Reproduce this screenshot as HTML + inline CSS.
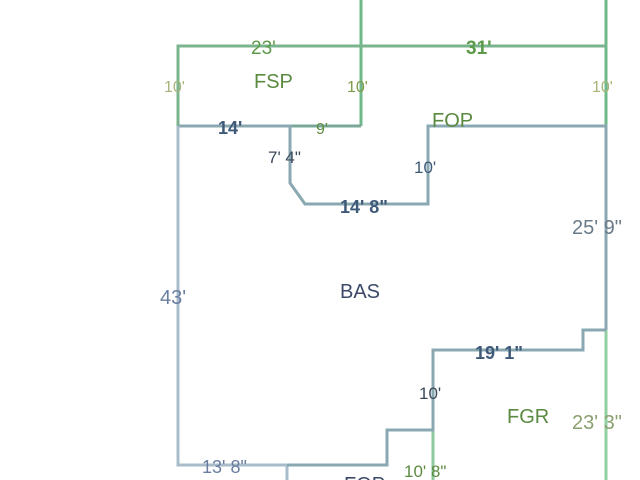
<!DOCTYPE html>
<html><head><meta charset="utf-8"><style>
html,body{margin:0;padding:0;background:#fff;}
svg{display:block}
text{font-family:"Liberation Sans",sans-serif;}
</style></head><body>
<svg width="640" height="480" viewBox="0 0 640 480" xmlns="http://www.w3.org/2000/svg">
<g fill="none" stroke-width="3" stroke-linejoin="miter">
<path d="M361 0 V126" stroke="#6fb889"/>
<path d="M606 0 V126" stroke="#6fb889"/>
<path d="M178 126 V46 H606" stroke="#79b48e"/>
<path d="M290 126 H361" stroke="#7aa898"/>
<path d="M606 330 V480" stroke="#8fd09e"/>
<path d="M433 400 V480" stroke="#8fc9a0"/>
<path d="M178 126 H290 V183 L305 204 H428 V126 H606 V330" stroke="#8aa8b2"/>
<path d="M178 126 V465 H287 V480" stroke="#a9bccb"/>
<path d="M606 330 H583 V350 H433 V430 H387 V465 H287" stroke="#8aa8b2"/>
</g>
<g font-size="17">
<text x="251" y="54" fill="#5d9a4a" font-size="19">23'</text>
<text x="466" y="54" fill="#5d9a4a" font-size="19" font-weight="bold">31'</text>
<text x="164" y="92" fill="#a7b57a" font-size="16">10'</text>
<text x="347" y="92" fill="#7e9a4a" font-size="16">10'</text>
<text x="592" y="92" fill="#a7b57a" font-size="16">10'</text>
<text x="254" y="88" fill="#5a8a40" font-size="20">FSP</text>
<text x="432" y="127" fill="#5a8a40" font-size="20">FOP</text>
<text x="218" y="134" fill="#3e5a78" font-weight="bold" font-size="18">14'</text>
<text x="316" y="134" fill="#5a8a40" font-size="16">9'</text>
<text x="268" y="163" fill="#3b4a5c" font-size="17">7' 4"</text>
<text x="414" y="173" fill="#3e5a78" font-size="17">10'</text>
<text x="340" y="213" fill="#3e5a78" font-weight="bold" font-size="18">14' 8"</text>
<text x="572" y="234" fill="#6a7a88" font-size="20">25' 9"</text>
<text x="160" y="304" fill="#6a7ea0" font-size="20">43'</text>
<text x="340" y="298" fill="#3b4a68" font-size="20">BAS</text>
<text x="475" y="359" fill="#3e5a78" font-weight="bold" font-size="18">19' 1"</text>
<text x="419" y="399" fill="#3b4a5c" font-size="17">10'</text>
<text x="507" y="423" fill="#5a8a40" font-size="20">FGR</text>
<text x="572" y="429" fill="#8aa070" font-size="20">23' 3"</text>
<text x="202" y="473" fill="#6a7ea0" font-size="18">13' 8"</text>
<text x="404" y="477" fill="#5a8a40" font-size="17">10' 8"</text>
<text x="344" y="491" fill="#3b4a68" font-size="20">FOP</text>
</g>
</svg>
</body></html>
